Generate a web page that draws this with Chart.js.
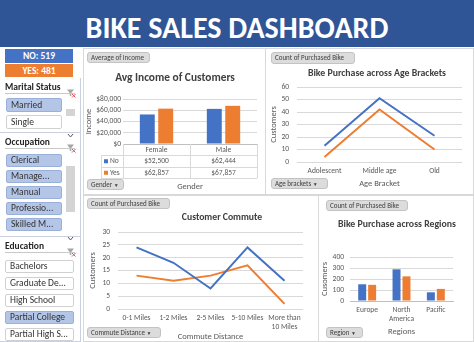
<!DOCTYPE html>
<html>
<head>
<meta charset="utf-8">
<script src="https://cdn.jsdelivr.net/npm/chart.js@4.4.0/dist/chart.umd.min.js"></script>
<style>
  body { margin: 0; width: 474px; height: 342px; overflow: hidden; background: #fff; position: relative;
         font-family: Carlito, 'Liberation Sans Narrow', 'Liberation Sans', sans-serif; color: #404040; }
  #topbar { position: absolute; left: 0; top: 0; width: 474px; height: 47px; background: #2F5597;
            color: #fff; font-weight: bold; font-size: 30px; text-align: center; line-height: 56px; }
  .panel { position: absolute; border: 1px solid #D9D9D9; box-sizing: border-box; }
  canvas { position: absolute; }
  .btn { position: absolute; background: #DCDCDC; border: 1px solid #C3C3C3; border-radius: 3px; font-size: 7px;
         color: #404040; line-height: 9px; padding: 0 3px; white-space: nowrap; box-sizing: border-box; }
  .ctitle { position: absolute; font-weight: bold; color: #404040; white-space: nowrap; transform: translate(-50%, -50%); }
  .kpi { position: absolute; left: 5px; width: 68px; color: #fff; font-weight: bold; font-size: 9.5px; text-align: center; }
  .shead { position: absolute; left: 5px; font-weight: bold; font-size: 9.5px; color: #262626; }
  .sline { position: absolute; left: 5px; width: 70px; height: 1px; background: #C8C8C8; }
  .item { position: absolute; left: 6px; border: 1px solid #D0D0D0; border-radius: 2px; box-sizing: border-box;
          font-size: 9.5px; padding-left: 4px; color: #333; white-space: nowrap; overflow: hidden; }
  .item.sel { background: #B4C6E7; border-color: #9BB0D8; }
  .frame { position: absolute; left: 0; width: 81px; border-right: 1px solid #C9D1DE; border-bottom: 1px solid #C9D1DE; box-sizing: border-box; }
</style>
</head>
<body>
<div id="topbar">BIKE SALES DASHBOARD</div>
<div class="kpi" style="top:49px;height:14px;line-height:15px;background:#4472C4" id="kpiNo"></div>
<div class="kpi" style="top:64px;height:13px;line-height:14px;background:#ED7D31" id="kpiYes"></div>

<div class="panel" style="left:83px;top:48px;width:183px;height:147px"></div>
<div class="panel" style="left:265px;top:48px;width:209px;height:147px"></div>
<div class="panel" style="left:83px;top:195px;width:236px;height:147px"></div>
<div class="panel" style="left:318px;top:195px;width:156px;height:147px"></div>

<canvas id="c1" width="181" height="146" style="left:84px;top:48px"></canvas>
<canvas id="c2" width="208" height="146" style="left:266px;top:48px"></canvas>
<canvas id="c3" width="234" height="146" style="left:84px;top:196px"></canvas>
<canvas id="c4" width="155" height="146" style="left:319px;top:196px"></canvas>

<div class="ctitle" style="left:175px;top:77px;font-size:11.4px">Avg Income of Customers</div>
<div class="ctitle" style="left:377px;top:73px;font-size:9.8px">Bike Purchase across Age Brackets</div>
<div class="ctitle" style="left:222px;top:217px;font-size:9.7px">Customer Commute</div>
<div class="ctitle" style="left:397px;top:224px;font-size:9.8px">Bike Purchase across Regions</div>

<div class="btn" style="left:87px;top:52px;width:63px;height:11px">Average of Income</div>
<div class="btn" style="left:87px;top:179px;width:37px;height:11px">Gender <span style="font-size:5px">▼</span></div>
<div class="btn" style="left:271px;top:52px;width:84px;height:12px;line-height:10px">Count of Purchased Bike</div>
<div class="btn" style="left:271px;top:178px;width:57px;height:11px">Age brackets <span style="font-size:5px">▼</span></div>
<div class="btn" style="left:87px;top:198px;width:83px;height:11px">Count of Purchased Bike</div>
<div class="btn" style="left:87px;top:327px;width:74px;height:11px">Commute Distance <span style="font-size:5px">▼</span></div>
<div class="btn" style="left:326px;top:200px;width:82px;height:11px">Count of Purchased Bike</div>
<div class="btn" style="left:326px;top:327px;width:37px;height:11px">Region <span style="font-size:5px">▼</span></div>

<script>
const FONT = "Carlito, 'Liberation Sans Narrow', 'Liberation Sans', sans-serif";

// totals
const totalNo = 519;
const totalYes = 481;

// slicers
const maritalItems = ['Married', 'Single'];
const maritalSel = [true, false];
const occupationItems = ['Clerical', 'Manage...', 'Manual', 'Professio...', 'Skilled M...'];
const occupationSel = [true, true, true, true, true];
const educationItems = ['Bachelors', 'Graduate De...', 'High School', 'Partial College', 'Partial High S...'];
const educationSel = [false, false, false, true, false];

// avg income by gender
const genders = ['Female', 'Male'];
const incomeNo = [52500, 62444];
const incomeYes = [62857, 67857];

// age brackets
const ageBrackets = ['Adolescent', 'Middle age', 'Old'];
const ageNo = [13, 51, 21];
const ageYes = [4, 42, 10];

// commute
const commute = ['0-1 Miles', '1-2 Miles', '2-5 Miles', '5-10 Miles', ['More than', '10 Miles']];
const commuteNo = [24, 18, 8, 24, 11];
const commuteYes = [13, 11, 13, 17, 2];

// regions
const regions = ['Europe', ['North', 'America'], 'Pacific'];
const regionNo = [152, 288, 79];
const regionYes = [147, 224, 110];

const BLUE = '#4472C4', ORANGE = '#ED7D31';

document.getElementById('kpiNo').textContent = 'NO: ' + totalNo;
document.getElementById('kpiYes').textContent = 'YES: ' + totalYes;

// ---- slicers (html) ----
function add(cls, style, html) {
  const d = document.createElement('div');
  d.className = cls;
  d.style.cssText = style;
  if (html !== undefined) d.innerHTML = html;
  document.body.appendChild(d);
  return d;
}
const filterIcon = '<svg width="9" height="9" viewBox="0 0 9 9"><path d="M0 0.5H7L4.3 4V7.5L2.7 6.5V4Z" fill="#A6A6A6"/><path d="M5 5L8.5 8.5M8.5 5L5 8.5" stroke="#E05050" stroke-width="1"/></svg>';
const upIcon = '<svg width="7" height="5"><polyline points="1,4 3.5,1 6,4" fill="none" stroke="#555" stroke-width="1"/></svg>';
const downIcon = '<svg width="7" height="5"><polyline points="1,1 3.5,4 6,1" fill="none" stroke="#555" stroke-width="1"/></svg>';

function slicer(top, height, title, items, sel, o) {
  add('frame', `top:${top}px;height:${height}px`);
  add('shead', `top:${top + 4}px;line-height:11px`, title);
  add('', `position:absolute;left:67px;top:${top + 5}px;width:9px;height:9px`, filterIcon);
  add('sline', `top:${top + 15}px`);
  items.forEach((t, i) => {
    const y = o.first + i * o.pitch;
    add('item' + (sel[i] ? ' sel' : ''),
      `top:${y}px;left:${o.left}px;width:${o.w}px;height:${o.h}px;line-height:${o.h - 2}px`, t);
  });
  if (o.scroll) {
    const s = o.scroll;
    add('', `position:absolute;left:67px;top:${s[0]}px`, upIcon);
    add('', `position:absolute;left:66px;top:${s[1]}px;width:9px;height:${s[2] - s[1]}px;background:#D4D4D4`);
    add('', `position:absolute;left:67px;top:${s[3]}px`, downIcon);
  }
}
slicer(78, 55, 'Marital Status', maritalItems, maritalSel, {first: 98, pitch: 17, left: 6, w: 56, h: 14, scroll: [100, 109, 116, 123]});
slicer(133, 104, 'Occupation', occupationItems, occupationSel, {first: 154, pitch: 16, left: 6, w: 56, h: 13, scroll: [156, 166, 212, 226]});
slicer(237, 105, 'Education', educationItems, educationSel, {first: 260, pitch: 17, left: 5, w: 69, h: 13});

// ---- charts ----
Chart.defaults.font.family = FONT;
Chart.defaults.color = '#595959';
Chart.defaults.animation = false;
Chart.defaults.responsive = false;
Chart.defaults.plugins.legend.display = false;
Chart.defaults.plugins.tooltip.enabled = false;

const money = v => '$' + v.toLocaleString('en-US');

// data table under the income chart, columns follow the x scale
const tablePlugin = {
  id: 'dataTable',
  afterDraw(chart) {
    const {ctx, chartArea: a, scales: {x}} = chart;
    const n = chart.data.labels.length, colW = (a.right - a.left) / n;
    const sets = chart.data.datasets;
    const top = a.bottom, hh = 11, rh = 11.5, legLeft = 17;
    const bottom = top + hh + sets.length * rh;
    ctx.save();
    ctx.strokeStyle = '#D9D9D9';
    ctx.lineWidth = 1;
    ctx.beginPath();
    for (let i = 0; i <= n; i++) {
      const xx = Math.round(a.left + i * colW) + 0.5;
      ctx.moveTo(xx, top); ctx.lineTo(xx, bottom);
    }
    ctx.moveTo(legLeft + 0.5, top + hh); ctx.lineTo(legLeft + 0.5, bottom);
    for (let r = 0; r <= sets.length; r++) {
      const yy = Math.round(top + hh + r * rh) + 0.5;
      ctx.moveTo(legLeft, yy); ctx.lineTo(a.right, yy);
    }
    ctx.stroke();
    ctx.font = '7.5px ' + FONT;
    ctx.textBaseline = 'middle';
    ctx.fillStyle = '#595959';
    ctx.textAlign = 'center';
    chart.data.labels.forEach((l, i) => ctx.fillText(l, x.getPixelForValue(i), top + hh / 2 + 0.5));
    sets.forEach((ds, r) => {
      const cy = top + hh + r * rh + rh / 2 + 0.5;
      ctx.fillStyle = '#595959';
      ctx.textAlign = 'center';
      ds.data.forEach((v, i) => ctx.fillText(money(v), x.getPixelForValue(i), cy));
      ctx.fillStyle = ds.backgroundColor;
      ctx.fillRect(legLeft + 3, cy - 2, 4, 4);
      ctx.fillStyle = '#595959';
      ctx.textAlign = 'left';
      ctx.fillText(ds.label, legLeft + 9, cy);
    });
    ctx.restore();
  }
};

function yAxis(max, step, width, fmt, title, tpad, tickPad) {
  return {
    min: 0, max: max,
    border: {display: false},
    grid: {color: '#D9D9D9', drawTicks: false},
    ticks: {stepSize: step, padding: tickPad, autoSkip: false, font: {size: 7.5}, callback: fmt},
    title: {display: true, text: title, font: {size: 8.5}, padding: {top: tpad, bottom: 0}},
    afterFit: s => { s.width = width; }
  };
}
function xAxis(height, title, tpad, showTicks, border) {
  return {
    offset: true,
    grid: {display: false, drawTicks: false},
    border: {display: border, color: '#BFBFBF'},
    ticks: {display: showTicks, maxRotation: 0, autoSkip: false, padding: 5, font: {size: 7.5}},
    title: {display: true, text: title, font: {size: 8.5}, padding: {top: 0, bottom: tpad}},
    afterFit: s => { s.height = height; }
  };
}

new Chart(document.getElementById('c1'), {
  type: 'bar',
  data: {
    labels: genders,
    datasets: [
      {label: 'No', data: incomeNo, backgroundColor: BLUE, categoryPercentage: 0.55, barPercentage: 0.81},
      {label: 'Yes', data: incomeYes, backgroundColor: ORANGE, categoryPercentage: 0.55, barPercentage: 0.81}
    ]
  },
  options: {
    layout: {padding: {top: 51, right: 8, left: 0, bottom: 0}},
    scales: {
      x: xAxis(50, 'Gender', 2, false, true),
      y: yAxis(80000, 20000, 39, v => money(v), 'Income', 0, 2)
    }
  },
  plugins: [tablePlugin]
});

const lineSet = (label, data, color) => ({label, data, borderColor: color, backgroundColor: color, borderWidth: 2, pointRadius: 0, tension: 0});

new Chart(document.getElementById('c2'), {
  type: 'line',
  data: {labels: ageBrackets, datasets: [lineSet('No', ageNo, BLUE), lineSet('Yes', ageYes, ORANGE)]},
  options: {
    layout: {padding: {top: 39, right: 12, left: 0, bottom: 0}},
    scales: {
      x: xAxis(32, 'Age Bracket', 5, true, false),
      y: yAxis(60, 10, 31, v => v, 'Customers', 3, 8)
    }
  }
});

new Chart(document.getElementById('c3'), {
  type: 'line',
  data: {labels: commute, datasets: [lineSet('No', commuteNo, BLUE), lineSet('Yes', commuteYes, ORANGE)]},
  options: {
    layout: {padding: {top: 36, right: 15, left: 0, bottom: 0}},
    scales: {
      x: xAxis(33, 'Commute Distance', 0, true, false),
      y: yAxis(30, 5, 34, v => v, 'Customers', 4, 8)
    }
  }
});

new Chart(document.getElementById('c4'), {
  type: 'bar',
  data: {
    labels: regions,
    datasets: [
      {label: 'No', data: regionNo, backgroundColor: BLUE, categoryPercentage: 0.58, barPercentage: 0.8},
      {label: 'Yes', data: regionYes, backgroundColor: ORANGE, categoryPercentage: 0.58, barPercentage: 0.8}
    ]
  },
  options: {
    layout: {padding: {top: 61, right: 21, left: 0, bottom: 0}},
    scales: {
      x: xAxis(41, 'Regions', 5, true, true),
      y: yAxis(400, 100, 31, v => v, 'Cusomers', 1, 6)
    }
  }
});
</script>
</body>
</html>
